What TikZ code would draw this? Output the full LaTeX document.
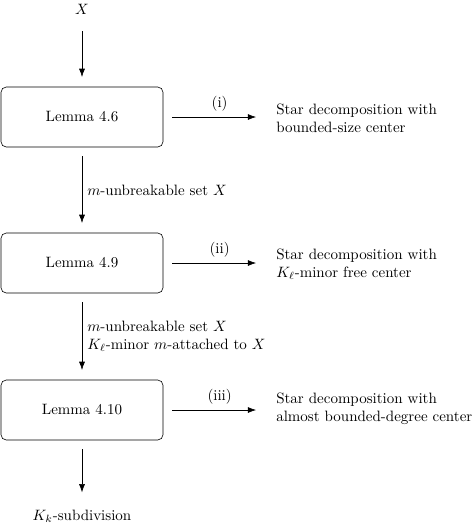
\documentclass[tikz,border=0pt]{standalone}
\usepackage{amsmath}
\usepackage{amssymb}
\usetikzlibrary{arrows.meta}
\begin{document}
\begin{tikzpicture}[x=0.6667pt,y=-0.6667pt,
        lemma/.style={draw, rounded corners=3.5pt, minimum width=108pt, minimum height=40pt},
        result/.style={anchor=west, align=left, inner sep=0pt},
        fleche/.style={-{Latex[length=5.5pt,width=4pt]}, shorten <=6pt, shorten >=6.5pt},
        sortie/.style={-{Latex[length=5.5pt,width=4pt]}, shorten <=6pt, shorten >=13.3pt}]
        \useasboundingbox (0,0) rectangle (474,526);
        % Entrée et sortie
        \node (X) at (82,9) {$X$};
        \node (K) at (82,516) {$K_k$-subdivision};

        % Lemmes
        \node[lemma] (L1) at (82,117) {Lemma 4.6};
        \node[lemma] (L2) at (82,263) {Lemma 4.9};
        \node[lemma] (L3) at (82,410) {Lemma 4.10};

        % Décompositions
        \node[result] (S1) at (276,118) {Star decomposition with\\bounded-size center};
        \node[result] (S2) at (276,264) {Star decomposition with\\$K_\ell$-minor free center};
        \node[result] (S3) at (276,409) {Star decomposition with\\almost bounded-degree center};

        % Flèches verticales
        \draw[fleche, shorten <=8pt] (X) -- (L1);
        \draw[fleche] (L1) -- (L2) node[midway, right] {$m$-unbreakable set $X$};
        \draw[fleche] (L2) -- (L3) node[midway, right, align=left] {$m$-unbreakable set $X$\\$K_\ell$-minor $m$-attached to $X$};
        \draw[fleche, shorten >=8pt] (L3) -- (K);

        % Flèches horizontales
        \foreach \i/\lab in {1/(i), 2/(ii), 3/(iii)} {
        \draw[sortie] (L\i.east) -- (L\i.east -| S\i.west) node[midway, above] {\lab};
        }
    \end{tikzpicture}
\end{document}
